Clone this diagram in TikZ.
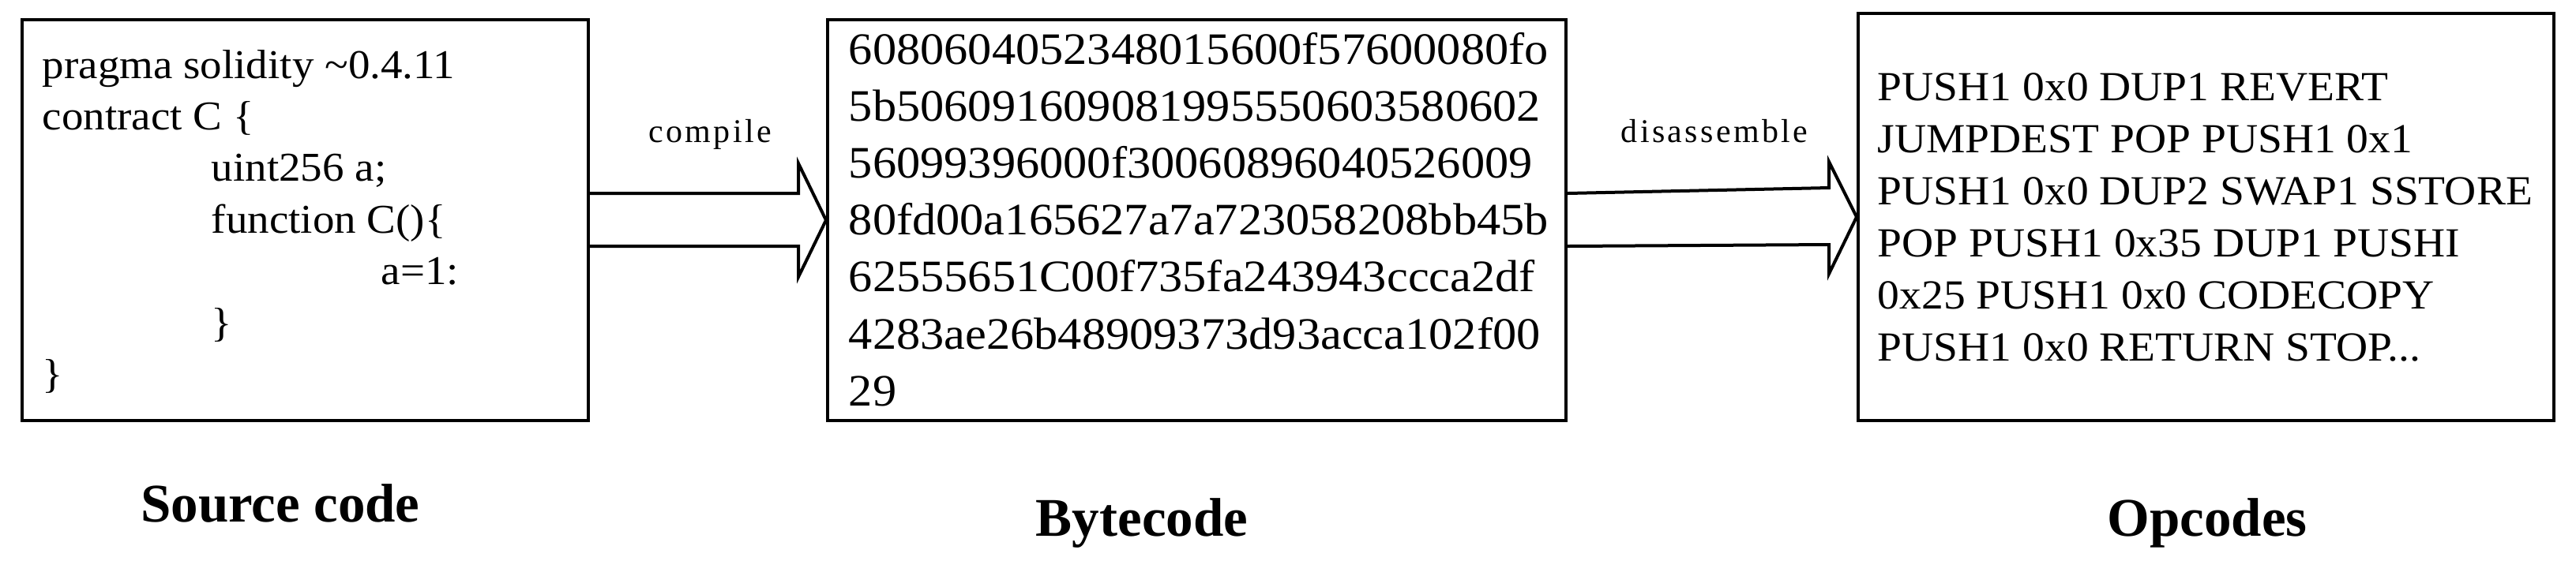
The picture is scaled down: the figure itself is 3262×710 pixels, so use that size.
\documentclass[tikz,border=0pt]{standalone}
\usepackage{fontspec}
\setmainfont{Liberation Serif}
\newfontfamily\boxfont{Liberation Serif}[FakeStretch=1.06]
\newfontfamily\lblfont{Liberation Serif}[LetterSpace=8]
\usetikzlibrary{fit,calc}
\begin{document}
\begin{tikzpicture}[x=0.25pt,y=-0.25pt,
  box/.style={draw, line width=1pt, inner sep=0pt},
  blockarrow/.style={draw, line width=1pt, line join=miter},
  srcline/.style={anchor=base west, inner sep=0pt, font=\boxfont\fontsize{12.97pt}{15pt}\selectfont},
  byteline/.style={anchor=base west, inner sep=0pt, font=\boxfont\fontsize{14.25pt}{17pt}\selectfont},
  opline/.style={anchor=base west, inner sep=0pt, font=\boxfont\fontsize{13.1pt}{16pt}\selectfont},
  arrowlbl/.style={anchor=base, inner sep=0pt, font=\lblfont\fontsize{10.5pt}{12pt}\selectfont},
  titlelbl/.style={anchor=base, inner sep=0pt, font=\bfseries\fontsize{17.25pt}{20pt}\selectfont}]
\useasboundingbox (0,0) rectangle (3262,710);

% boxes
\node[box, fit={(28,25) (745,533)}] (srcbox) {};
\node[box, fit={(1048,25) (1983,533)}] (bytebox) {};
\node[box, fit={(2353,17) (3234,533)}] (opbox) {};

% source code
\node[srcline] (s1) at (53,99) {pragma solidity \textasciitilde0.4.11};
\node[srcline] (s2) at (53,164.4) {contract C \{};
\node[srcline] (s3) at (267,229.8) {uint256 a;};
\node[srcline] (s4) at (267,295.2) {function C()\{};
\node[srcline] (s5) at (482,360.6) {a=1:};
\node[srcline] (s6) at (267,426) {\}};
\node[srcline] (s7) at (53,491.4) {\}};

% bytecode
\node[byteline] (b1) at (1074,81.5) {6080604052348015600f57600080fo};
\node[byteline] (b2) at (1074,153.6) {5b506091609081995550603580602};
\node[byteline] (b3) at (1074,225.7) {56099396000f30060896040526009};
\node[byteline] (b4) at (1074,297.8) {80fd00a165627a7a723058208bb45b};
\node[byteline] (b5) at (1074,369.9) {62555651C00f735fa243943ccca2df};
\node[byteline] (b6) at (1074,442) {4283ae26b48909373d93acca102f00};
\node[byteline] (b7) at (1074,514.1) {29};

% opcodes
\node[opline] (o1) at (2377,127) {PUSH1 0x0 DUP1 REVERT};
\node[opline] (o2) at (2377,193) {JUMPDEST POP PUSH1 0x1};
\node[opline] (o3) at (2377,259) {PUSH1 0x0 DUP2 SWAP1 SSTORE};
\node[opline] (o4) at (2377,325) {POP PUSH1 0x35 DUP1 PUSHI};
\node[opline] (o5) at (2377,391) {0x25 PUSH1 0x0 CODECOPY};
\node[opline] (o6) at (2377,457) {PUSH1 0x0 RETURN STOP...};

% block arrows
\draw[blockarrow] ($(srcbox.east)+(0,-34)$) -- ($(bytebox.west)+(-35,-34)$)
  -- ($(bytebox.west)+(-35,-72)$) -- (bytebox.west)
  -- ($(bytebox.west)+(-35,72)$) -- ($(bytebox.west)+(-35,33)$)
  -- ($(srcbox.east)+(0,33)$);
\draw[blockarrow] ($(bytebox.east)+(0,-34)$) -- ($(opbox.west)+(-35,-37)$)
  -- ($(opbox.west)+(-35,-70)$) -- (opbox.west)
  -- ($(opbox.west)+(-35,72)$) -- ($(opbox.west)+(-35,35)$)
  -- ($(bytebox.east)+(0,33)$);

% arrow labels
\node[arrowlbl] (lcompile) at (899,180) {compile};
\node[arrowlbl] (ldisasm) at (2171,180) {disassemble};

% titles
\node[titlelbl] (tsrc) at (355,661) {Source code};
\node[titlelbl] (tbyte) at (1446,679) {Bytecode};
\node[titlelbl] (top) at (2795,679) {Opcodes};
\end{tikzpicture}
\end{document}
